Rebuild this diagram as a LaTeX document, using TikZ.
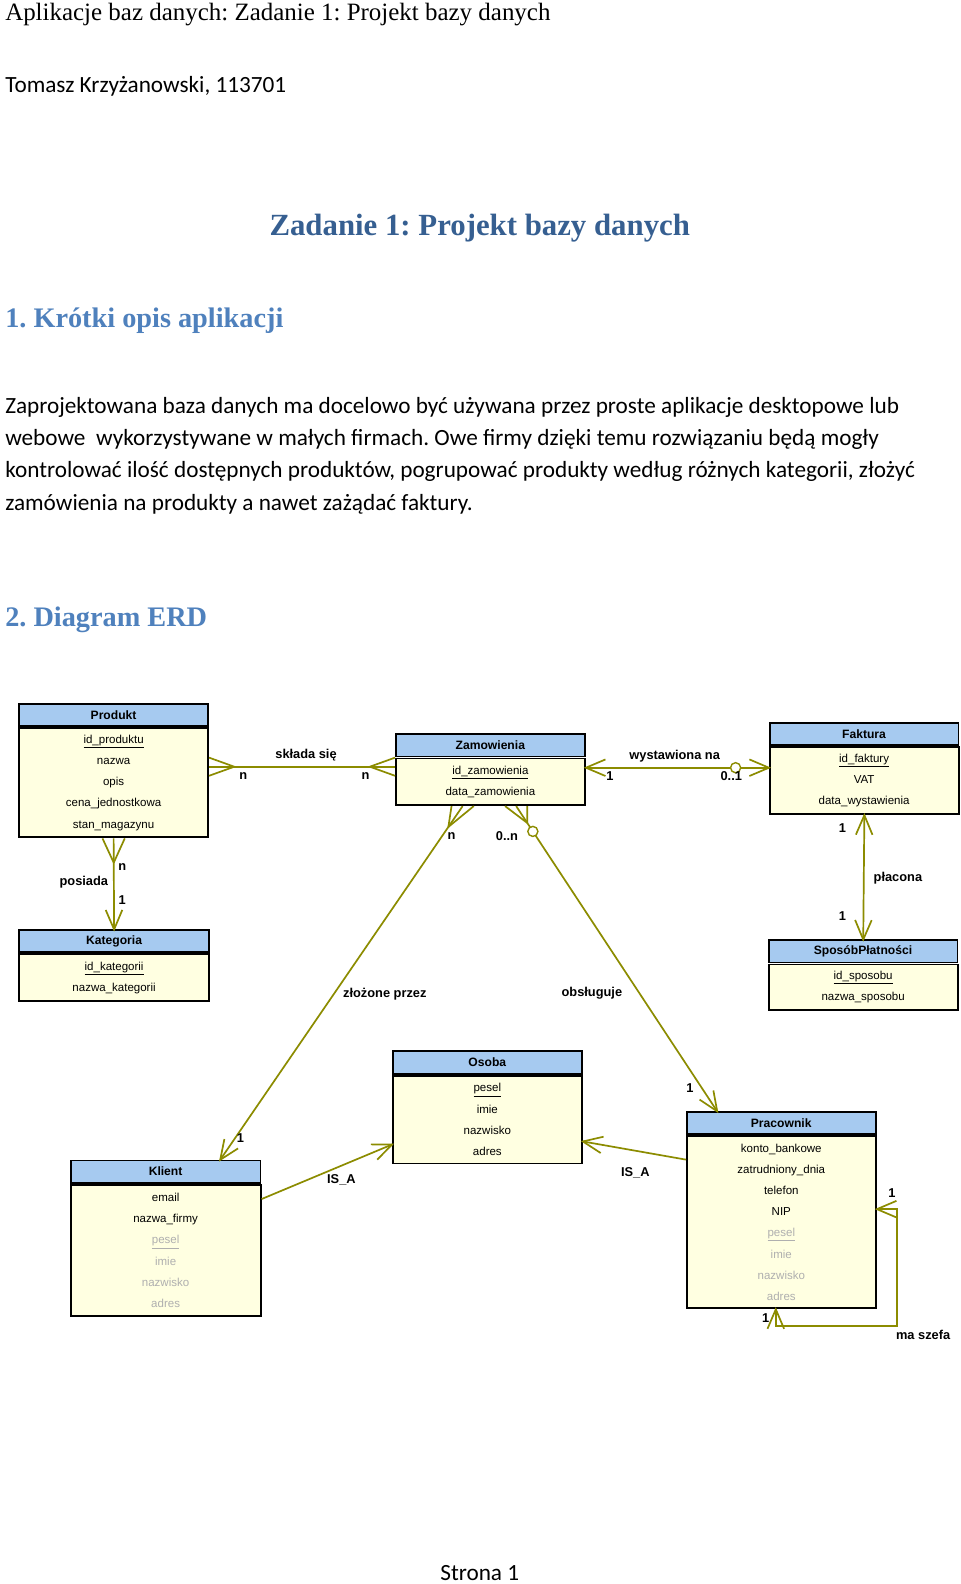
\documentclass[tikz,border=0pt]{standalone}
\usepackage{fontspec}
\setmainfont{Carlito}
\newfontfamily\timesfont{Liberation Serif}
\newfontfamily\headfont{Liberation Serif}
\newfontfamily\erdfont{Liberation Sans}
\usetikzlibrary{calc}
\frenchspacing
\definecolor{hdrblue}{RGB}{166,202,240}
\definecolor{bodyyel}{RGB}{255,255,225}
\definecolor{conncol}{RGB}{140,140,0}
\definecolor{inhgray}{RGB}{175,175,175}
\definecolor{hAblue}{RGB}{54,95,145}
\definecolor{hBblue}{RGB}{79,129,189}
\tikzset{
 hdr/.style={draw=black, line width=1.9pt, fill=hdrblue, minimum height=22pt, inner sep=0pt, font=\erdfont\fontsize{12}{14}\selectfont\bfseries},
 entbody/.style={draw=black, line width=1.9pt, fill=bodyyel, inner sep=0pt, align=center, font=\erdfont\fontsize{11.4}{21}\selectfont},
 conn/.style={draw=conncol, line width=1.7pt},
 lbl/.style={font=\erdfont\fontsize{12.7}{14}\selectfont\bfseries, inner sep=0pt},
 doctext/.style={anchor=base west, inner sep=0pt, font=\fontsize{23}{27}\selectfont},
 headA/.style={anchor=base, inner sep=0pt, text=hAblue, font=\headfont\bfseries\fontsize{30.5}{34}\selectfont},
 headB/.style={anchor=base west, inner sep=0pt, text=hBblue, font=\headfont\bfseries\fontsize{28}{32}\selectfont},
 optcirc/.style={circle, draw=conncol, line width=1.4pt, fill=white, minimum size=10pt, inner sep=0pt},
}
\newcommand\entity[7]{%
 \node[hdr, minimum width=#4pt, anchor=north west] (#1) at (#2,#3) {#5};
 \node[entbody, minimum width=#4pt, minimum height=#7pt, anchor=north] (#1b) at (#1.south) {#6};}
\newcommand\crowh[3]{%
 \draw[conn] ($(#1)!#3!(#2)$) -- ($(#1)+(-11,0)$) ($(#1)!#3!(#2)$) -- ($(#1)+(11,0)$);}
\newcommand\crowv[3]{%
 \draw[conn] ($(#1)!#3!(#2)$) -- ($(#1)+(0,-9)$) ($(#1)!#3!(#2)$) -- ($(#1)+(0,9)$);}
\newcommand\onearr[2]{%
 \draw[conn] ($(#1)!21pt!23:(#2)$) -- (#1) -- ($(#1)!21pt!-23:(#2)$);}
\newcommand\grey[1]{{\color{inhgray}#1}}
\begin{document}
\begin{tikzpicture}[x=1pt,y=-1pt,scale=1.01,transform shape]
\useasboundingbox (0,0) rectangle (950.5,1568.3);
\fill[white] (0,0) rectangle (950.5,1568.3);

% document text
\node[anchor=base west, inner sep=0pt, font=\timesfont\fontsize{24.7}{28}\selectfont] (title) at (5,20) {Aplikacje baz danych: Zadanie 1: Projekt bazy danych};
\node[doctext] (author) at (5,92) {Tomasz Krzyżanowski, 113701};
\node[headA] (hA) at (475,233) {Zadanie 1: Projekt bazy danych};
\node[headB] (hB) at (5,324) {1. Krótki opis aplikacji};
\node[doctext] (p1) at (5,409) {Zaprojektowana baza danych ma docelowo być używana przez proste aplikacje desktopowe lub};
\node[doctext] (p2) at (5,441) {webowe\ \ wykorzystywane w małych firmach. Owe firmy dzięki temu rozwiązaniu będą mogły};
\node[doctext] (p3) at (5,473) {kontrolować ilość dostępnych produktów, pogrupować produkty według różnych kategorii, złożyć};
\node[doctext] (p4) at (5,505) {zamówienia na produkty a nawet zażądać faktury.};
\node[headB] (hC) at (5,620) {2. Diagram ERD};
\node[anchor=base, inner sep=0pt, font=\fontsize{23}{27}\selectfont] (foot) at (475,1565) {Strona 1};

% entities
\entity{produkt}{18}{696}{187}{Produkt}{\underline{id\_produktu}\\nazwa\\opis\\cena\_jednostkowa\\stan\_magazynu}{108}
\entity{zamow}{391}{726}{187}{Zamowienia}{\underline{id\_zamowienia}\\data\_zamowienia}{46}
\entity{faktura}{761}{715}{187}{Faktura}{\underline{id\_faktury}\\VAT\\data\_wystawienia}{66}
\entity{kategoria}{18}{920}{188}{Kategoria}{\underline{id\_kategorii}\\nazwa\_kategorii}{46}
\entity{sposob}{760}{930}{187}{SposóbPłatności}{\underline{id\_sposobu}\\nazwa\_sposobu}{45}
\entity{osoba}{388}{1040}{187}{Osoba}{\underline{pesel}\\imie\\nazwisko\\adres}{87}
\entity{klient}{69}{1148}{188}{Klient}{email\\nazwa\_firmy\\\grey{\underline{pesel}}\\\grey{imie}\\\grey{nazwisko}\\\grey{adres}}{130}
\entity{pracownik}{679}{1100}{187}{Pracownik}{konto\_bankowe\\zatrudniony\_dnia\\telefon\\NIP\\\grey{\underline{pesel}}\\\grey{imie}\\\grey{nazwisko}\\\grey{adres}}{170}

% connector end points
\coordinate (a1) at (produktb.east |- 0,759);
\coordinate (a2) at (zamowb.west |- 0,759);
\coordinate (b1) at (zamowb.east |- 0,760);
\coordinate (b2) at (fakturab.west |- 0,760);
\coordinate (c1) at (fakturab.south);
\coordinate (c2) at (sposob.north);
\coordinate (d1) at (produktb.south);
\coordinate (d2) at (kategoria.north);
\coordinate (e1) at (zamowb.south -| 458,0);
\coordinate (e2) at (klient.north -| 218,0);
\coordinate (g1) at (zamowb.south -| 511,0);
\coordinate (g2) at (pracownik.north -| 710,0);
\coordinate (h1) at (klientb.east |- 0,1187);
\coordinate (h2) at (osobab.west |- 0,1133);
\coordinate (i1) at (pracownikb.west |- 0,1148);
\coordinate (i2) at (osobab.east |- 0,1130);
\coordinate (j1) at (pracownikb.east |- 0,1197);
\coordinate (jA) at (888,1197);
\coordinate (jB) at (888,1313);
\coordinate (jC) at (768,1313);
\coordinate (j2) at (pracownikb.south -| 768,0);

% składa się
\draw[conn] (a1) -- (a2);
\crowv{a1}{a2}{25pt}
\crowv{a2}{a1}{25pt}
% wystawiona na
\draw[conn] (b1) -- (b2);
\onearr{b1}{b2}
\onearr{b2}{b1}
\node[optcirc] (oc1) at ($(b2)!33pt!(b1)$) {};
% płacona
\draw[conn] (c1) -- (c2);
\onearr{c1}{c2}
\onearr{c2}{c1}
% posiada
\draw[conn] (d1) -- (d2);
\crowh{d1}{d2}{24pt}
\onearr{d2}{d1}
% złożone przez
\draw[conn] (e1) -- (e2);
\crowh{e1}{e2}{25pt}
\onearr{e2}{e1}
% obsługuje
\draw[conn] (g1) -- (g2);
\crowh{g1}{g2}{20pt}
\node[optcirc] (oc2) at ($(g1)!30pt!(g2)$) {};
\onearr{g2}{g1}
% IS_A
\draw[conn] (h1) -- (h2);
\onearr{h2}{h1}
\draw[conn] (i1) -- (i2);
\onearr{i2}{i1}
% ma szefa
\draw[conn] (j1) -- (jA) -- (jB) -- (jC) -- (j2);
\onearr{j1}{jA}
\onearr{j2}{jC}

% labels
\node[lbl] (l1) at (303,748) {składa się};
\node[lbl] (l2) at (241,768) {n};
\node[lbl] (l3) at (362,768) {n};
\node[lbl] (l4) at (668,749) {wystawiona na};
\node[lbl] (l5) at (604,768) {1};
\node[lbl] (l6) at (724,768) {0..1};
\node[lbl] (l7) at (834,820) {1};
\node[lbl] (l8) at (889,869) {płacona};
\node[lbl] (l9) at (834,907) {1};
\node[lbl] (l10) at (121,858) {n};
\node[lbl] (l11) at (83,873) {posiada};
\node[lbl] (l12) at (121,891) {1};
\node[lbl] (l13) at (447,828) {n};
\node[lbl] (l14) at (502,828) {0..n};
\node[lbl] (l15) at (381,984) {złożone przez};
\node[lbl] (l16) at (586,983) {obsługuje};
\node[lbl] (l17) at (238,1127) {1};
\node[lbl] (l18) at (683,1077) {1};
\node[lbl] (l19) at (338,1168) {IS\_A};
\node[lbl] (l20) at (629,1161) {IS\_A};
\node[lbl] (l21) at (883,1181) {1};
\node[lbl] (l22) at (758,1305) {1};
\node[lbl] (l23) at (914,1322) {ma szefa};
\end{tikzpicture}
\end{document}
